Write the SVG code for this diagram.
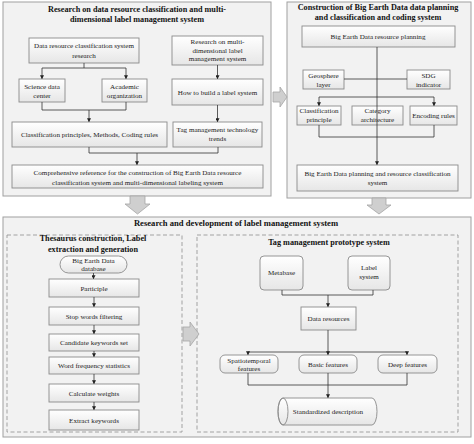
<svg xmlns="http://www.w3.org/2000/svg" width="474" height="444" viewBox="0 0 474 444">
<defs>
<linearGradient id="bg" x1="0" y1="0" x2="0" y2="1"><stop offset="0" stop-color="#ffffff"/><stop offset="1" stop-color="#e6e6e6"/></linearGradient>
<marker id="ah" viewBox="0 0 6 6" refX="5" refY="3" markerWidth="5" markerHeight="5" orient="auto"><path d="M0,0 L6,3 L0,6 Z" fill="#222"/></marker>
<style>
.panel{fill:#f2f2f2;stroke:#a0a0a0;stroke-width:1}
.dash{fill:none;stroke:#999;stroke-width:0.9;stroke-dasharray:4,2.5}
.box{fill:url(#bg);stroke:#8a8a8a;stroke-width:0.9}
.t{font-family:"Liberation Serif",serif;font-size:7.1px;fill:#222;text-anchor:middle}
.h{font-family:"Liberation Serif",serif;font-size:8.2px;font-weight:bold;fill:#111;text-anchor:middle}
.c{fill:none;stroke:#333;stroke-width:0.8}
.a{fill:none;stroke:#333;stroke-width:0.8;marker-end:url(#ah)}
.blk{fill:#cfcfcf;stroke:#a5a5a5;stroke-width:0.8}
</style>
</defs>
<rect width="474" height="444" fill="#ffffff"/>

<g id="panel-left">
<rect class="panel" x="3" y="2" width="268" height="194"/>
<text class="h" x="137" y="12">Research on data resource classification and multi-</text>
<text class="h" x="137" y="22">dimensional label management system</text>
</g>
<g id="panel-right">
<rect class="panel" x="287" y="2" width="184" height="196"/>
<text class="h" x="378" y="10">Construction of Big Earth Data data planning</text>
<text class="h" x="378" y="20">and classification and coding system</text>
</g>
<g id="panel-bottom">
<rect class="panel" x="3" y="217" width="468" height="220"/>
<text class="h" x="236" y="226" style="font-size:8.6px">Research and development of label management system</text>
<rect class="dash" x="7" y="235" width="175" height="197"/>
<rect class="dash" x="197" y="235" width="261" height="197"/>
<text class="h" x="93" y="241">Thesaurus construction, Label</text>
<text class="h" x="93" y="252">extraction and generation</text>
<text class="h" x="329" y="245">Tag management prototype system</text>
</g>

<g id="block-arrows">
<path class="blk" d="M273,92 H280 V87 L287,97 L280,107 V102 H273 Z"/>
<path class="blk" d="M130,196 H145 V204 H150 L137.5,214 L125,204 H130 Z"/>
<path class="blk" d="M372,198 H386 V205 H391 L379,214 L367,205 H372 Z"/>
<path class="blk" d="M183,327 H190 V322 L199,334 L190,346 V341 H183 Z"/>
</g>

<g id="n1"><rect class="box" x="29" y="38" width="110" height="25"/>
<text class="t" x="84" y="48">Data resource classification system</text><text class="t" x="84" y="58">research</text></g>
<g id="n2"><rect class="box" x="19" y="79" width="46" height="23"/>
<text class="t" x="42" y="89">Science data</text><text class="t" x="42" y="98">center</text></g>
<g id="n3"><rect class="box" x="102" y="79" width="45" height="23"/>
<text class="t" x="124.5" y="89">Academic</text><text class="t" x="124.5" y="98">organization</text></g>
<g id="n4"><rect class="box" x="172" y="36" width="91" height="29"/>
<text class="t" x="217.5" y="44">Research on multi-</text><text class="t" x="217.5" y="52.5">dimensional label</text><text class="t" x="217.5" y="61">management system</text></g>
<g id="n5"><rect class="box" x="172" y="79" width="91" height="26"/>
<text class="t" x="217.5" y="94.5">How to build a label system</text></g>
<g id="n6"><rect class="box" x="12" y="122" width="155" height="25"/>
<text class="t" x="89.5" y="137">Classification principles, Methods, Coding rules</text></g>
<g id="n7"><rect class="box" x="173" y="122" width="89" height="25"/>
<text class="t" x="217.5" y="132">Tag management technology</text><text class="t" x="217.5" y="141">trends</text></g>
<g id="n8"><rect class="box" x="12" y="165" width="251" height="23"/>
<text class="t" x="137.5" y="175">Comprehensive reference for the construction of Big Earth Data resource</text><text class="t" x="137.5" y="184.5">classification system and multi-dimensional labeling system</text></g>

<g id="r1"><rect class="box" x="302" y="26" width="153" height="21"/>
<text class="t" x="378" y="38.5">Big Earth Data resource planning</text></g>
<g id="r2"><rect class="box" x="303" y="70" width="41" height="19"/>
<text class="t" x="323.5" y="78">Geosphere</text><text class="t" x="323.5" y="86.5">layer</text></g>
<g id="r3"><rect class="box" x="407" y="70" width="43" height="19"/>
<text class="t" x="428.5" y="78">SDG</text><text class="t" x="428.5" y="86.5">indicator</text></g>
<g id="r4"><rect class="box" x="297" y="106" width="44" height="19"/>
<text class="t" x="319" y="113">Classification</text><text class="t" x="319" y="122">principle</text></g>
<g id="r5"><rect class="box" x="352" y="106" width="51" height="19"/>
<text class="t" x="377.5" y="113">Category</text><text class="t" x="377.5" y="122">architecture</text></g>
<g id="r6"><rect class="box" x="410" y="106" width="47" height="19"/>
<text class="t" x="433.5" y="118">Encoding rules</text></g>
<g id="r7"><rect class="box" x="297" y="165" width="161" height="26"/>
<text class="t" x="377.5" y="175.5">Big Earth Data planning and resource classification</text><text class="t" x="377.5" y="185">system</text></g>

<g id="b1"><rect class="box" x="60" y="256" width="67" height="17" rx="8.5"/>
<text class="t" x="93.5" y="263">Big Earth Data</text><text class="t" x="93.5" y="271">database</text></g>
<g id="b2"><rect class="box" x="49" y="279" width="90" height="18"/><text class="t" x="94" y="290.5">Participle</text></g>
<g id="b3"><rect class="box" x="49" y="307" width="90" height="18"/><text class="t" x="94" y="318.5">Stop words filtering</text></g>
<g id="b4"><rect class="box" x="49" y="334" width="90" height="17"/><text class="t" x="94" y="345">Candidate keywords set</text></g>
<g id="b5"><rect class="box" x="49" y="357" width="90" height="17"/><text class="t" x="94" y="368">Word frequency statistics</text></g>
<g id="b6"><rect class="box" x="49" y="384" width="90" height="18"/><text class="t" x="94" y="395.5">Calculate weights</text></g>
<g id="b7"><rect class="box" x="49" y="410" width="90" height="20"/><text class="t" x="94" y="422.5">Extract keywords</text></g>

<g id="m1"><rect class="box" x="260" y="256" width="43" height="34" rx="4"/><text class="t" x="281.5" y="275">Metabase</text></g>
<g id="m2"><rect class="box" x="348" y="256" width="42" height="34" rx="4"/><text class="t" x="369" y="270">Label</text><text class="t" x="369" y="279">system</text></g>
<g id="m3"><rect class="box" x="301" y="307" width="55" height="23"/><text class="t" x="328.5" y="321">Data resources</text></g>
<g id="m4"><rect class="box" x="220" y="355" width="58" height="18" rx="5"/><text class="t" x="249" y="362.5">Spatiotemporal</text><text class="t" x="249" y="370.5">features</text></g>
<g id="m5"><rect class="box" x="299" y="355" width="58" height="18" rx="5"/><text class="t" x="328" y="366.5">Basic features</text></g>
<g id="m6"><rect class="box" x="378" y="355" width="59" height="18" rx="5"/><text class="t" x="407.5" y="366.5">Deep features</text></g>
<g id="m7"><path class="box" d="M283,398 H372 A5,13.5 0 0 1 372,425 H283 A5,13.5 0 0 1 283,398 Z"/>
<ellipse cx="283" cy="411.5" rx="5" ry="13.5" fill="none" stroke="#8a8a8a" stroke-width="0.9"/>
<text class="t" x="328" y="414">Standardized description</text></g>

<g id="connectors">
<path class="c" d="M84,63 V68 M42,68 H126"/>
<path class="a" d="M42,68 V78.5"/><path class="a" d="M126,68 V78.5"/>
<path class="c" d="M42,102 V110 H126 V102"/><path class="a" d="M89,110 V121.5"/>
<path class="a" d="M217.5,65 V78.5"/><path class="a" d="M217.5,105 V121.5"/>
<path class="c" d="M89,147 V153 H218 V147"/><path class="a" d="M137,153 V164.5"/>

<path class="a" d="M377,47 V164.5"/>
<path class="c" d="M344,79 H407"/>
<path class="c" d="M319,97 H434"/>
<path class="a" d="M319,97 V105.5"/><path class="a" d="M434,97 V105.5"/>
<path class="c" d="M319,125 V137 H434 V125"/>

<path class="a" d="M93.5,273 V278.5"/>
<path class="a" d="M94,297 V306.5"/>
<path class="a" d="M94,325 V333.5"/>
<path class="a" d="M94,351 V356.5"/>
<path class="a" d="M94,374 V383.5"/>
<path class="a" d="M94,402 V409.5"/>

<path class="c" d="M282,290 V295 H373 V290"/>
<path class="a" d="M328,295 V306.5"/>
<path class="c" d="M328,330 V352 M248,352 H407"/>
<path class="a" d="M248,352 V354.5"/><path class="a" d="M407,352 V354.5"/><path class="a" d="M328,352 V354.5"/>
<path class="c" d="M248,373 V385 H407 V373"/>
<path class="a" d="M328,373 V397.5"/>
</g>
</svg>
